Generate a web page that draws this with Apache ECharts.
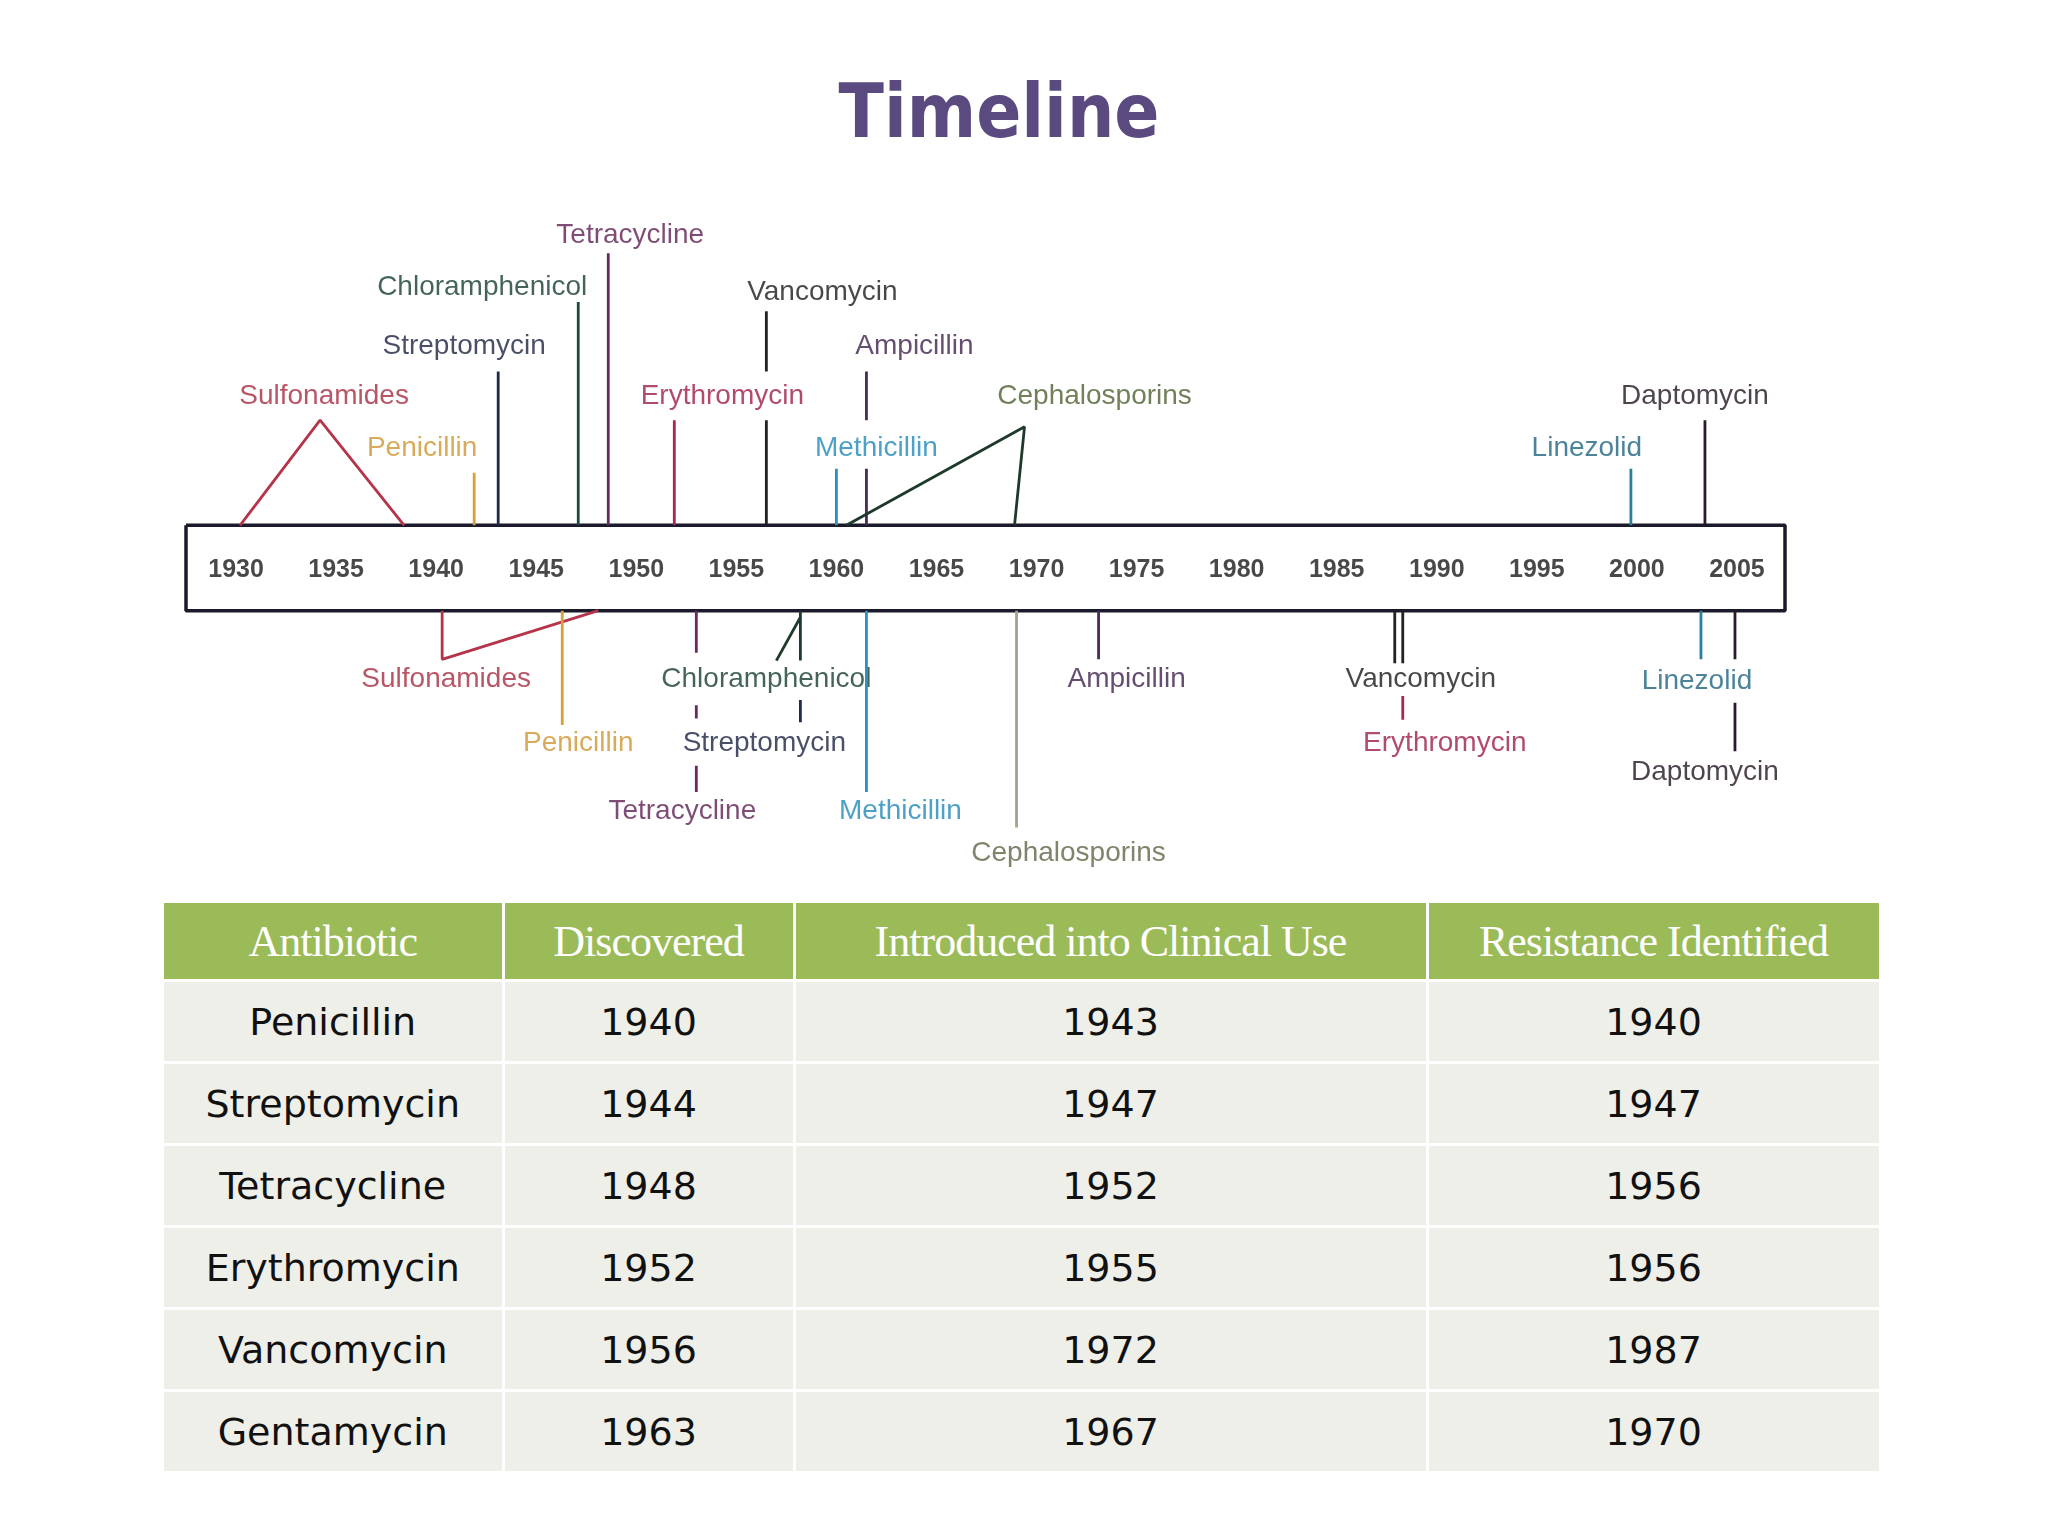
<!DOCTYPE html>
<html><head><meta charset="utf-8">
<script src="https://cdn.jsdelivr.net/npm/echarts@6/dist/echarts.min.js"></script>
<style>
body{margin:0;background:#fff;width:2048px;height:1536px;position:relative;overflow:hidden}
#c{position:absolute;left:0;top:0;width:2048px;height:900px}
table{position:absolute;left:164px;top:903px;width:1716px;border-collapse:collapse;table-layout:fixed}
th{background:#9bbb59;color:#fff;font-family:"Liberation Serif",serif;font-weight:normal;font-size:44px;height:76px;padding:0;border-right:3px solid #fff;letter-spacing:-1px}
td{background:#efefea;font-family:"DejaVu Sans",sans-serif;font-size:38px;height:79px;padding:0;text-align:center;border-right:3px solid #fff;border-top:3px solid #fff;color:#111}
</style></head><body>
<div id="c"></div>
<table id="t"></table>
<script>
const ticks=[1930,1935,1940,1945,1950,1955,1960,1965,1970,1975,1980,1985,1990,1995,2000,2005];
const headers=["Antibiotic","Discovered","Introduced into Clinical Use","Resistance Identified"];
const drugs=["Penicillin","Streptomycin","Tetracycline","Erythromycin","Vancomycin","Gentamycin"];
const discovered=[1940,1944,1948,1952,1956,1963];
const introduced=[1943,1947,1952,1955,1972,1967];
const resistance=[1940,1947,1956,1956,1987,1970];
// timeline labels: [year, level, text, color]
const labels=[
[1949.7,179,"Tetracycline","#5e1f52"],[1942.3,219,"Chloramphenicol","#163d30"],[1941.4,264,"Streptomycin","#1a2340"],
[1934.4,302,"Sulfonamides","#a82c40"],[1939.3,341,"Penicillin","#d09530"],[1959.3,223,"Vancomycin","#1a1a1a"],
[1963.9,264,"Ampicillin","#40224f"],[1954.3,302,"Erythromycin","#9e1e48"],[1962.0,341,"Methicillin","#2088b8"],
[1972.9,302,"Cephalosporins","#4f6030"],[2002.9,302,"Daptomycin","#221522"],[1997.5,341,"Linezolid","#1f6480"],
[1940.5,517,"Sulfonamides","#a82c40"],[1947.1,566,"Penicillin","#d09530"],[1956.5,517,"Chloramphenicol","#163d30"],
[1956.4,566,"Streptomycin","#1a2340"],[1952.3,618,"Tetracycline","#5e1f52"],[1963.2,618,"Methicillin","#2088b8"],
[1971.6,650,"Cephalosporins","#5f6545"],[1974.5,517,"Ampicillin","#40224f"],[1989.2,517,"Vancomycin","#1a1a1a"],
[1990.4,566,"Erythromycin","#9e1e48"],[2003.0,519,"Linezolid","#1f6480"],[2003.4,588,"Daptomycin","#221522"]];
// connector segments: [color, points [year, level]]
const segs=[
["#b5344a",[[1930.2,400],[1934.2,320],[1938.4,400]]],["#d9a03a",[[1941.9,360],[1941.9,400]]],
["#1f2a4a",[[1943.1,283],[1943.1,400]]],["#1d4a3a",[[1947.1,230],[1947.1,400]]],["#6b2a5e",[[1948.6,193],[1948.6,400]]],
["#a8264f",[[1951.9,320],[1951.9,400]]],["#222",[[1956.5,237],[1956.5,283]]],["#222",[[1956.5,320],[1956.5,400]]],
["#2a90c0",[[1960.0,357],[1960.0,400]]],["#4a2a5a",[[1961.5,283],[1961.5,320]]],["#4a2a5a",[[1961.5,357],[1961.5,400]]],
["#1d3a2a",[[1960.5,400],[1969.4,325],[1968.9,400]]],["#2a7f9a",[[1999.7,357],[1999.7,400]]],["#2a1a2a",[[2003.4,320],[2003.4,400]]],
["#b5344a",[[1940.3,465],[1940.3,502],[1948.1,465]]],["#d9a03a",[[1946.3,465],[1946.3,552]]],
["#6b2a5e",[[1953.0,465],[1953.0,497]]],["#6b2a5e",[[1953.0,537],[1953.0,547]]],["#6b2a5e",[[1953.0,583],[1953.0,603]]],
["#1d3a2a",[[1958.2,465],[1958.2,503]]],["#1d3a2a",[[1957.0,503],[1958.2,470]]],["#1f2a4a",[[1958.2,533],[1958.2,550]]],
["#2a90c0",[[1961.5,465],[1961.5,603]]],["#a0a58a",[[1969.0,465],[1969.0,630]]],["#4a2a5a",[[1973.1,465],[1973.1,502]]],
["#222",[[1987.9,465],[1987.9,505]]],["#222",[[1988.3,465],[1988.3,505]]],["#a8264f",[[1988.3,530],[1988.3,548]]],
["#2a7f9a",[[2003.2,465],[2003.2,502]]],["#2a1a2a",[[2004.9,465],[2004.9,502]]],["#2a1a2a",[[2004.9,535],[2004.9,572]]]];
const box=[[1927.5,400],[2007.4,400],[2007.4,465],[1927.5,465],[1927.5,400]];

const series=[];
series.push({type:'line',data:box,symbol:'none',lineStyle:{color:'#1a1a2a',width:3.5},silent:true});
segs.forEach(s=>series.push({type:'line',data:s[1],symbol:'none',lineStyle:{color:s[0],width:2.8},silent:true}));
series.push({type:'scatter',symbolSize:0,data:ticks.map(t=>[t,434]),label:{show:true,position:'inside',formatter:p=>p.value[0],fontFamily:'Liberation Sans',fontWeight:'bold',fontSize:25,color:'#1a1a1a'}});
series.push({type:'scatter',symbolSize:0,data:labels.map(l=>({value:[l[0],l[1]],name:l[2],label:{color:l[3]}})),label:{show:true,position:'inside',formatter:p=>p.name,fontFamily:'Liberation Sans',fontSize:28}});
const chart=echarts.init(document.getElementById('c'));
chart.setOption({
 animation:false,
 title:{text:'Timeline',left:994,top:76,textAlign:'center',textStyle:{fontFamily:'DejaVu Sans Condensed',fontWeight:'bold',fontSize:74,color:'#5b4a80'}},
 grid:{left:186,right:263,top:210,height:670},
 xAxis:{type:'value',min:1927.5,max:2007.4,show:false},
 yAxis:{type:'value',min:160,max:670,inverse:true,show:false},
 series
});
const t=document.getElementById('t');
const widths=[339,291,633,453];
t.style.width='1716px';
let h='<colgroup>'+widths.map(w=>`<col style="width:${w}px">`).join('')+'</colgroup><tr>'+headers.map(x=>`<th>${x}</th>`).join('')+'</tr>';
drugs.forEach((d,i)=>{h+=`<tr><td>${d}</td><td>${discovered[i]}</td><td>${introduced[i]}</td><td>${resistance[i]}</td></tr>`;});
t.innerHTML=h;
</script></body></html>
